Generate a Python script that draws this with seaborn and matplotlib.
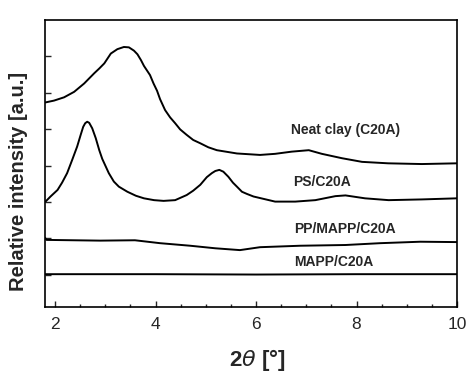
import matplotlib
matplotlib.use("Agg")
import matplotlib.pyplot as plt
import seaborn as sns
import pandas as pd
from matplotlib.ticker import MultipleLocator

# 2theta [deg] and relative intensity (arbitrary units)
clay_x = [1.81, 1.98, 2.18, 2.38, 2.58, 2.78, 2.88, 2.98, 3.11, 3.24, 3.37, 3.47, 3.57,
          3.64, 3.71, 3.77, 3.89, 3.96, 4.03, 4.09, 4.19, 4.29, 4.39, 4.49, 4.62, 4.75,
          4.89, 5.05, 5.22, 5.62, 6.08, 6.38, 6.71, 7.05, 7.31, 7.71, 8.11, 8.63, 9.30,
          10.0]
clay_y = [5.73, 5.78, 5.87, 6.02, 6.25, 6.53, 6.66, 6.80, 7.07, 7.19, 7.25, 7.24, 7.15,
          7.05, 6.89, 6.73, 6.48, 6.25, 6.05, 5.82, 5.52, 5.32, 5.16, 4.99, 4.84, 4.70,
          4.61, 4.50, 4.42, 4.33, 4.29, 4.32, 4.38, 4.42, 4.32, 4.20, 4.10, 4.06, 4.04,
          4.06]

ps_x = [1.81, 1.91, 2.05, 2.14, 2.24, 2.34, 2.44, 2.51, 2.56, 2.60, 2.64, 2.68, 2.74,
        2.81, 2.88, 2.94, 3.01, 3.07, 3.17, 3.27, 3.44, 3.61, 3.77, 3.97, 4.16, 4.39,
        4.62, 4.75, 4.89, 5.02, 5.12, 5.19, 5.27, 5.35, 5.45, 5.54, 5.62, 5.72, 5.82,
        5.95, 6.38, 6.78, 7.18, 7.58, 7.78, 8.17, 8.64, 9.30, 10.0]
ps_y = [3.01, 3.15, 3.33, 3.53, 3.79, 4.15, 4.52, 4.84, 5.06, 5.16, 5.20, 5.17, 5.02,
        4.75, 4.42, 4.18, 3.97, 3.79, 3.56, 3.42, 3.28, 3.17, 3.10, 3.05, 3.03, 3.05,
        3.19, 3.31, 3.47, 3.68, 3.79, 3.85, 3.88, 3.83, 3.69, 3.53, 3.42, 3.28, 3.22,
        3.15, 3.01, 3.01, 3.05, 3.16, 3.18, 3.10, 3.05, 3.07, 3.10]

pp_x = [1.80, 1.83, 2.90, 3.59, 4.09, 4.69, 5.19, 5.68, 6.08, 6.88, 7.78, 8.47, 9.27, 10.0]
pp_y = [2.02, 1.96, 1.94, 1.95, 1.87, 1.80, 1.73, 1.68, 1.76, 1.80, 1.82, 1.87, 1.91, 1.90]

mapp_x = [1.80, 4.0, 6.0, 8.0, 10.0]
mapp_y = [1.02, 1.02, 1.01, 1.02, 1.02]

labels = ["Neat clay (C20A)", "PS/C20A", "PP/MAPP/C20A", "MAPP/C20A"]
label_x = [6.70, 6.73, 6.76, 6.76]
label_y = [4.98, 3.55, 2.25, 1.36]

sns.set_style("ticks")
plt.rcParams["font.family"] = ["Liberation Sans", "DejaVu Sans"]

fig = plt.figure(figsize=(4.74, 3.73), dpi=100)
ax = fig.add_axes([45 / 474, 1 - 307 / 373, 412 / 474, 287 / 373])

series = [(clay_x, clay_y), (ps_x, ps_y), (pp_x, pp_y), (mapp_x, mapp_y)]
for (xs, ys), name in zip(series, labels):
    df = pd.DataFrame({"x": xs, "y": ys})
    sns.lineplot(data=df, x="x", y="y", ax=ax, color="black", linewidth=1.4,
                 sort=False, estimator=None)

for name, tx, ty in zip(labels, label_x, label_y):
    ax.text(tx, ty, name, fontsize=10, fontweight="bold", ha="left", va="center")

ax.set_xlim(1.8, 10)
ax.set_ylim(0.12, 7.99)
ax.xaxis.set_major_locator(MultipleLocator(2))
ax.xaxis.set_minor_locator(MultipleLocator(0.5))
ax.set_yticks([1, 2, 3, 4, 5, 6, 7])
ax.set_yticklabels([])

ax.tick_params(axis="x", which="major", direction="in", length=4, width=1,
               labelsize=12.5, pad=7, top=False)
ax.tick_params(axis="x", which="minor", direction="in", length=2.5, width=1, top=False)
ax.tick_params(axis="y", which="major", direction="in", length=4, width=1, right=False)

for s in ax.spines.values():
    s.set_visible(True)
    s.set_linewidth(1.2)
    s.set_color("black")

ax.set_xlabel(r"2$\mathit{\theta}$ [°]", fontsize=16, fontweight="bold")
ax.xaxis.set_label_coords((257 - 45) / 412, -(360 - 307) / 287)
ax.xaxis.label.set_va("center")

ax.set_ylabel("Relative intensity [a.u.]", fontsize=14.5, fontweight="bold")
ax.yaxis.set_label_coords((19 - 45) / 412, (307 - 181) / 287)
ax.yaxis.label.set_va("center")

fig.savefig("out.png", dpi=100)
